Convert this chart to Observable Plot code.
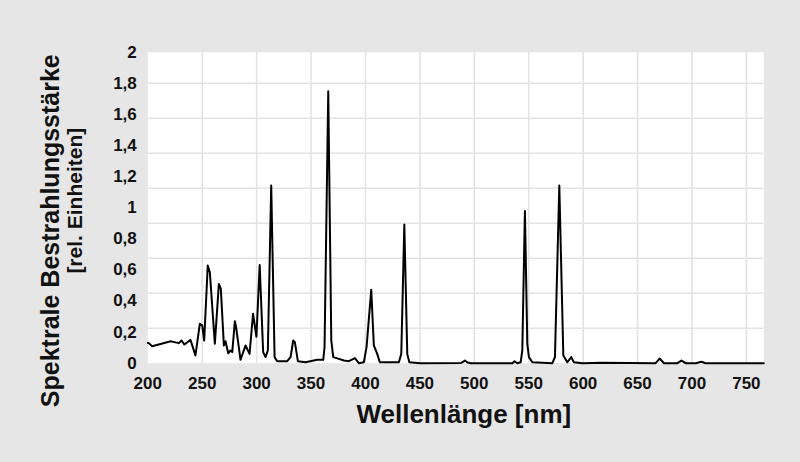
<!DOCTYPE html>
<html>
<head>
<meta charset="utf-8">
<script src="https://cdn.jsdelivr.net/npm/d3@7"></script>
<script src="https://cdn.jsdelivr.net/npm/@observablehq/plot@0.6"></script>
<style>
  html, body { margin: 0; padding: 0; background: #e6e6e6; }
  #chart { width: 800px; height: 462px; }
</style>
</head>
<body>
<div id="chart"></div>
<script>
const wavelength = [
  200, 201, 204, 210, 221, 228.5, 231, 233.7, 239.2, 243.8, 247.8, 250, 251.8, 255.1, 257,
  261.6, 265.3, 267.1, 269.9, 271.4, 273.9, 276, 277.6, 280, 281.2, 285.2, 289.8, 293.5,
  296.7, 299.8, 302.8, 306, 308.2, 310.3, 313.4, 316.5, 318.9, 328.1, 331.2, 333.6, 335.1,
  337.9, 345, 355.7, 361.2, 362.4, 365.8, 368.6, 370.4, 375.6, 380.2, 384.8, 390.3, 393.9,
  398.5, 401, 405.3, 407.7, 410.8, 413.2, 430.7, 432.9, 435.7, 438.4, 440.3, 450.6, 488,
  491.4, 494, 496.6, 535, 537, 539.5, 542.6, 544.1, 546.5, 548.7, 550.2, 553.3, 571.7,
  574.1, 578.1, 581.8, 585.5, 589.1, 591.5, 599.3, 617.6, 666.6, 670.3, 674.3, 686.6,
  690.3, 694.2, 703.4, 708.6, 712.6, 766
];
const intensity = [
  0.13, 0.129, 0.109, 0.12, 0.141, 0.129, 0.146, 0.12, 0.15, 0.05, 0.253, 0.243, 0.146, 0.628, 0.585,
  0.125, 0.51, 0.478, 0.114, 0.141, 0.064, 0.082, 0.071, 0.27, 0.228, 0.022, 0.114, 0.06,
  0.318, 0.17, 0.632, 0.071, 0.039, 0.082, 1.143, 0.039, 0.013, 0.013, 0.039, 0.146, 0.135,
  0.013, 0.006, 0.022, 0.022, 0.103, 1.749, 0.146, 0.039, 0.028, 0.017, 0.013, 0.032, 0.0,
  0.006, 0.103, 0.472, 0.114, 0.06, 0.006, 0.006, 0.06, 0.892, 0.06, 0.006, 0, 0.002,
  0.017, 0.004, 0, 0, 0.013, 0, 0.006, 0.082, 0.978, 0.125, 0.039, 0.006, 0,
  0.039, 1.143, 0.05, 0.006, 0.039, 0.006, 0, 0.003, 0, 0.03, 0, 0,
  0.017, 0, 0, 0.009, 0, 0
];
const xTicks = [200, 250, 300, 350, 400, 450, 500, 550, 600, 650, 700, 750];
const xGrid = [250, 300, 350, 400, 450, 500, 550, 600, 650, 700, 750];
const yTicks = [0, 0.2, 0.4, 0.6, 0.8, 1, 1.2, 1.4, 1.6, 1.8, 2];
const yGrid = [0.225, 0.45, 0.675, 0.9, 1.125, 1.35, 1.575, 1.8];
const xTitle = "Wellenlänge [nm]";
const yTitle1 = "Spektrale Bestrahlungsstärke";
const yTitle2 = "[rel. Einheiten]";

const rows = wavelength.map((w, i) => ({w, v: intensity[i]}));
const fmt = d => String(d).replace(".", ",");
const gridColor = "#e3e3e3";
const ink = "#111";

const chart = Plot.plot({
  width: 800,
  height: 462,
  marginLeft: 147.3,
  marginRight: 36.7,
  marginTop: 51.7,
  marginBottom: 99.3,
  style: {background: "transparent", fontFamily: "'Liberation Sans', Arial, sans-serif", color: ink},
  x: {domain: [200, 766], label: null},
  y: {domain: [0, 2], label: null},
  marks: [
    Plot.frame({fill: "white", stroke: null}),
    Plot.ruleX(xGrid, {stroke: gridColor, strokeWidth: 1.6}),
    Plot.ruleY(yGrid, {stroke: gridColor, strokeWidth: 1.6}),
    Plot.axisX({ticks: xTicks, tickSize: 0, tickPadding: 14, tickFormat: fmt, fontSize: 17, fontWeight: "bold", label: null}),
    Plot.axisY({ticks: yTicks, tickSize: 0, tickPadding: 11, tickFormat: fmt, fontSize: 17, fontWeight: "bold", label: null}),
    Plot.line(rows, {x: "w", y: "v", stroke: "black", strokeWidth: 2, strokeLinejoin: "round"}),
    Plot.text([xTitle], {frameAnchor: "bottom", lineAnchor: "middle", textAnchor: "middle", dx: 8, dy: 51, fontSize: 26, fontWeight: "bold", fill: ink}),
    Plot.text([yTitle1], {frameAnchor: "left", rotate: -90, textAnchor: "middle", lineAnchor: "middle", dx: -97, dy: 23, fontSize: 25, fontWeight: "bold", fill: ink}),
    Plot.text([yTitle2], {frameAnchor: "left", rotate: -90, textAnchor: "middle", lineAnchor: "middle", dx: -73, dy: -7, fontSize: 21, fontWeight: "bold", fill: ink})
  ]
});
document.getElementById("chart").appendChild(chart);
</script>
</body>
</html>
